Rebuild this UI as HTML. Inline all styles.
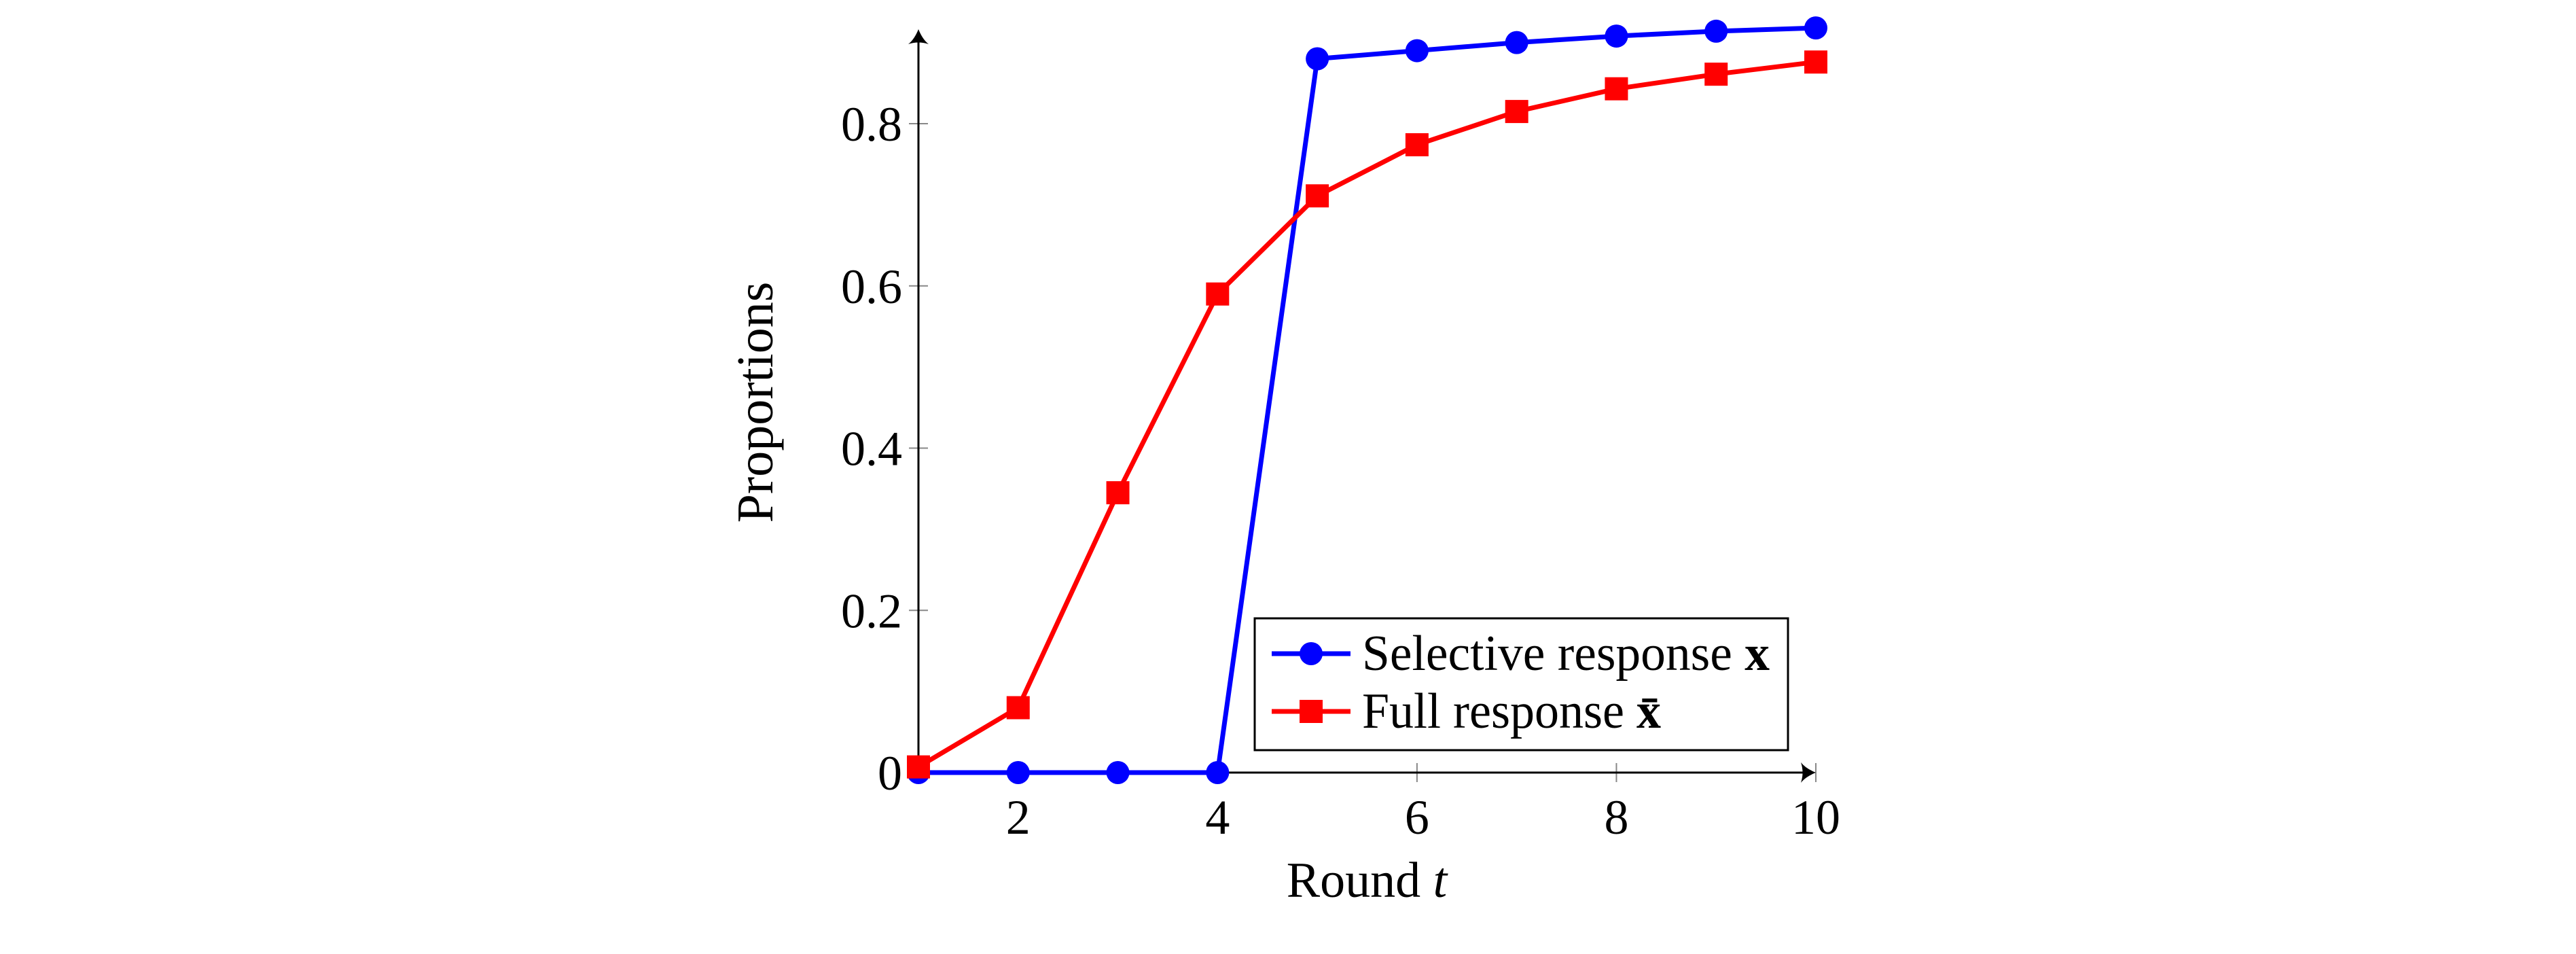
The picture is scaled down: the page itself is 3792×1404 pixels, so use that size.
<!DOCTYPE html>
<html><head><meta charset="utf-8"><style>
html,body{margin:0;padding:0;background:#fff;}
svg{display:block;font-family:"Liberation Serif",serif;}
</style></head><body>
<svg id="chart" width="3792" height="1404" viewBox="0 0 3792 1404" xmlns="http://www.w3.org/2000/svg">
<g id="grid"></g>
<g id="series"></g>
<g id="legend">
<rect x="1847" y="910" width="785" height="194" fill="#fff" stroke="#000" stroke-width="3"/>
<g>
<line x1="1872" y1="962" x2="1988" y2="962" stroke="#0000ff" stroke-width="7"/>
<circle cx="1930" cy="962" r="17" fill="#0000ff"/>
<text x="2005" y="986" font-size="74" textLength="600" lengthAdjust="spacingAndGlyphs">Selective response <tspan font-weight="bold">x</tspan></text>
</g>
<g>
<line x1="1872" y1="1047" x2="1988" y2="1047" stroke="#ff0000" stroke-width="7"/>
<rect x="1913" y="1030" width="34" height="34" fill="#ff0000"/>
<text x="2005" y="1071" font-size="74" textLength="440" lengthAdjust="spacingAndGlyphs">Full response <tspan font-weight="bold">x̄</tspan></text>
</g>
</g>
</svg>
<script>
const rounds = [1,2,3,4,5,6,7,8,9,10];
const selective = [0,0,0,0,0.88,0.89,0.90,0.908,0.914,0.918];
const full = [0.007,0.08,0.345,0.59,0.711,0.774,0.815,0.843,0.861,0.876];
const xTicks = [2,4,6,8,10];
const yTicks = [0,0.2,0.4,0.6,0.8];
const yTickLabels = ["0","0.2","0.4","0.6","0.8"];

const NS = "http://www.w3.org/2000/svg";
const X0 = 1352, XS = (2673-1352)/9;
const Y0 = 1137, YS = (1137-182)/0.8;
function sx(v){return X0 + (v-1)*XS;}
function sy(v){return Y0 - v*YS;}
function mk(tag, attrs, parent){const e=document.createElementNS(NS,tag);for(const k in attrs)e.setAttribute(k,attrs[k]);parent.appendChild(e);return e;}

const grid = document.getElementById('grid');
xTicks.forEach(t=>{
  const l = mk('line',{x1:sx(t),x2:sx(t),y1:Y0-14,y2:Y0+14,stroke:'#888','stroke-width':2},grid);
  
  
  const tx = mk('text',{x:sx(t),y:1227,'font-size':72,'text-anchor':'middle'},grid);
  tx.textContent = t;
  
  
});
yTicks.forEach((t,i)=>{
  const l = mk('line',{x1:X0-14,x2:X0+14,y1:sy(t),y2:sy(t),stroke:'#888','stroke-width':2},grid);
  
  
  const tx = mk('text',{x:1328,y:sy(t)+25,'font-size':72,'text-anchor':'end'},grid);
  tx.textContent = yTickLabels[i];
  
  
});
const xa = mk('line',{x1:X0,y1:Y0,x2:2665,y2:Y0,stroke:'#000','stroke-width':3},grid);


const xh = mk('path',{d:'M2673,1137 Q2658,1131 2651,1122 Q2656,1137 2651,1152 Q2658,1143 2673,1137Z',fill:'#000'},grid);


const ya = mk('line',{x1:X0,y1:Y0,x2:X0,y2:50,stroke:'#000','stroke-width':3},grid);


const yh = mk('path',{d:'M1352,43 Q1346,58 1337,65 Q1352,60 1367,65 Q1358,58 1352,43Z',fill:'#000'},grid);


const xt = mk('text',{x:2012,y:1320,'font-size':74,'text-anchor':'middle'},grid);
xt.innerHTML = 'Round <tspan font-style="italic">t</tspan>';


const yt = mk('text',{x:0,y:0,'font-size':76,'text-anchor':'middle',transform:'translate(1137,592) rotate(-90)'},grid);
yt.textContent = 'Proportions';



const ser = document.getElementById('series');
function drawSeries(vals,color,shape,name){
  const g = mk('g',{},ser);
  
  
  const pts = rounds.map((r,i)=>sx(r)+','+sy(vals[i])).join(' ');
  const pl = mk('polyline',{points:pts,fill:'none',stroke:color,'stroke-width':7,'stroke-linejoin':'round'},g);
  
  
  rounds.forEach((r,i)=>{
    let m;
    if(shape==='circle') m = mk('circle',{cx:sx(r),cy:sy(vals[i]),r:17,fill:color},g);
    else m = mk('rect',{x:sx(r)-17,y:sy(vals[i])-17,width:34,height:34,fill:color},g);
    
    
  });
}
drawSeries(selective,'#0000ff','circle','selective-series');
drawSeries(full,'#ff0000','square','full-series');
document.getElementById('chart').appendChild(document.getElementById('legend'));
</script>
</body></html>
